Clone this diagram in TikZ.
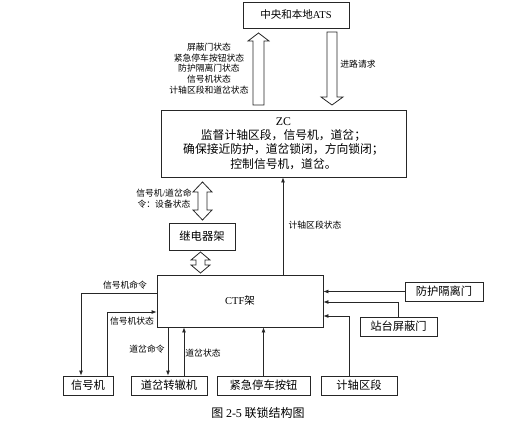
\documentclass[tikz,border=0pt]{standalone}
\usepackage{fontspec}
\setmainfont{Noto Sans CJK SC}
\newfontfamily\lat{Liberation Serif}
\usetikzlibrary{arrows.meta}
\tikzset{
  box/.style={draw=black!85, line width=0.8pt, minimum height=19pt, inner sep=0pt, font=\fontsize{11.3}{12}\selectfont},
  lab/.style={font=\fontsize{8.8}{10.8}\selectfont, inner sep=0pt, align=center},
  conn/.style={line width=0.8pt, draw=black!85, -{Latex[length=5pt,width=4pt]}},
  hollow/.style={draw=black!85, line width=0.8pt, fill=white, line join=miter}
}
\begin{document}
\begin{tikzpicture}[x=1pt,y=-1pt]
\useasboundingbox (0,0) rectangle (507,423);
% boxes
\node[box, minimum width=106pt, minimum height=26pt, font=\fontsize{10.5}{12}\selectfont] (ats) at (296,15) {中央和本地{\lat ATS}};
\node[box, minimum width=245pt, minimum height=67pt, align=center, font=\fontsize{11.8}{14.2}\selectfont] (zc) at (283.5,143.5)
  {{\lat ZC}\\监督计轴区段，信号机，道岔；\\确保接近防护，道岔锁闭，方向锁闭；\\控制信号机，道岔。};
\node[box, minimum width=66pt, minimum height=27pt] (relay) at (202,236.5) {继电器架};
\node[box, minimum width=166pt, minimum height=52pt, font=\fontsize{10.5}{12}\selectfont] (ctf) at (240,301) {{\lat CTF}架};
\node[box, minimum width=50pt] (sig) at (88,385.5) {信号机};
\node[box, minimum width=76pt] (sw) at (169,385.5) {道岔转辙机};
\node[box, minimum width=93pt] (estop) at (263.5,385.5) {紧急停车按钮};
\node[box, minimum width=76pt] (axle) at (359,385.5) {计轴区段};
\node[box, minimum width=78pt] (fhgl) at (444,291.5) {防护隔离门};
\node[box, minimum width=77pt] (ztpb) at (398.5,326.5) {站台屏蔽门};

% hollow arrows ZC <-> ATS
\draw[hollow] (253,105) -- (253,41) -- (248,41) -- (258.5,33) -- (269,41) -- (264,41) -- (264,105) -- cycle;
\draw[hollow] (327,32) -- (327,97) -- (321,97) -- (332,105) -- (343,97) -- (337,97) -- (337,32) -- cycle;
% double arrows
\draw[hollow] (198,192) -- (193,192) -- (202.5,182) -- (212,192) -- (207,192) -- (207,210) -- (212,210) -- (202.5,220) -- (193,210) -- (198,210) -- cycle;
\draw[hollow] (196,260) -- (191,260) -- (200.5,252) -- (210,260) -- (205,260) -- (205,265) -- (210,265) -- (200.5,273) -- (191,265) -- (196,265) -- cycle;

% labels
\node[lab] (l1) at (209,68.5) {屏蔽门状态\\紧急停车按钮状态\\防护隔离门状态\\信号机状态\\计轴区段和道岔状态};
\node[lab] (l2) at (358,64) {进路请求};
\node[lab] (l3) at (164,198.5) {信号机{\lat /}道岔命\\令：设备状态};
\node[lab] (l4) at (315,225) {计轴区段状态};
\node[lab] (l5) at (125,285) {信号机命令};
\node[lab] (l6) at (132,321) {信号机状态};
\node[lab] (l7) at (147,349) {道岔命令};
\node[lab] (l8) at (203,353) {道岔状态};
\node[font=\fontsize{12}{13}\selectfont, inner sep=0pt] (cap) at (258,413) {图 {\lat 2-5} 联锁结构图};

% connectors
\draw[conn] (ctf.north -| 283,0) -- (zc.south -| 283,0);
\coordinate (c1) at (81,293);
\draw[conn] (ctf.west |- c1) -- (c1) -- (sig.north -| c1);
\coordinate (c2) at (107,312);
\draw[conn] (sig.north -| c2) -- (c2) -- (ctf.west |- c2);
\draw[conn] (ctf.south -| 168,0) -- (sw.north -| 168,0);
\draw[conn] (sw.north -| 184,0) -- (ctf.south -| 184,0);
\draw[conn] (estop.north) -- (ctf.south -| estop.north);
\draw[conn] (fhgl.west) -- (ctf.east |- fhgl.west);
\coordinate (c3) at (398,302);
\draw[conn] (ztpb.north -| c3) -- (c3) -- (ctf.east |- c3);
\coordinate (c4) at (349,316);
\draw[conn] (axle.north -| c4) -- (c4) -- (ctf.east |- c4);
\end{tikzpicture}
\end{document}
